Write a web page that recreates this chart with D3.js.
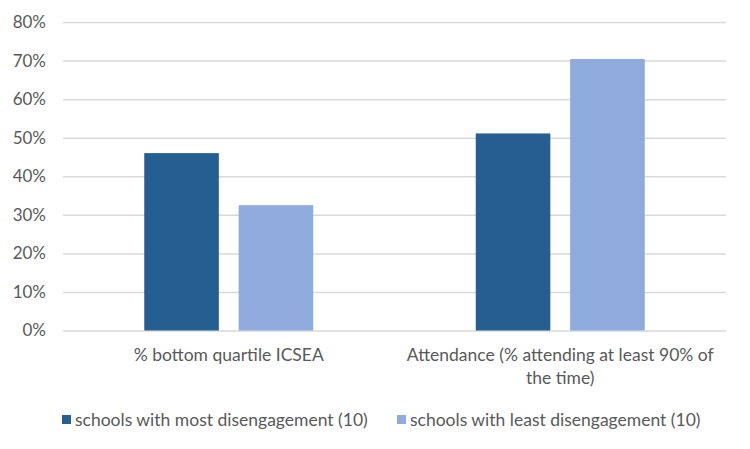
<!DOCTYPE html>
<html>
<head>
<meta charset="utf-8">
<script src="https://cdn.jsdelivr.net/npm/d3@7"></script>
<style>
  body { margin: 0; background: #fff; }
  text { font-family: Lato, 'Open Sans', sans-serif; fill: #595959; }
</style>
</head>
<body>
<div id="chart"></div>
<script>
const categories = ['% bottom quartile ICSEA', 'Attendance (% attending at least 90% of the time)']
const seriesNames = ['schools with most disengagement (10)', 'schools with least disengagement (10)']
const mostValues = [46.0, 51.1]
const leastValues = [32.5, 70.4]
const yTicks = [0, 10, 20, 30, 40, 50, 60, 70, 80]
const colors = ['#255e91', '#8faadc']

const width = 750, height = 449
const margin = { top: 22, right: 24, bottom: 118.5, left: 63 }
const innerW = width - margin.left - margin.right
const innerH = height - margin.top - margin.bottom

const svg = d3.select('#chart').append('svg')
  .attr('width', width)
  .attr('height', height)

const g = svg.append('g').attr('transform', `translate(${margin.left},${margin.top})`)

const y = d3.scaleLinear().domain([0, 80]).range([innerH, 0])
const x0 = d3.scaleBand().domain(categories).range([0, innerW])
const groupW = 169
const x1 = d3.scaleBand().domain(seriesNames).range([0, groupW]).paddingInner(0.21)

// gridlines + y labels
g.append('g')
  .call(d3.axisLeft(y).tickValues(yTicks).tickFormat(d => d + '%').tickSize(-innerW).tickPadding(17))
  .call(a => a.select('.domain').remove())
  .call(a => a.selectAll('.tick line').attr('stroke', '#d9d9d9').attr('stroke-width', 1.5))
  .call(a => a.selectAll('.tick text').style('font-size', '17px').attr('fill', '#595959'))

const rows = categories.map((c, i) => ({ cat: c, vals: [mostValues[i], leastValues[i]] }))

const groups = g.selectAll('.grp').data(rows).enter().append('g')
  .attr('class', 'grp')
  .attr('transform', d => `translate(${x0(d.cat) + (x0.bandwidth() - groupW) / 2},0)`)

groups.selectAll('rect')
  .data(d => d.vals.map((v, i) => ({ key: seriesNames[i], v, i })))
  .enter().append('rect')
  .attr('x', d => x1(d.key))
  .attr('width', x1.bandwidth())
  .attr('y', d => y(d.v))
  .attr('height', d => innerH - y(d.v))
  .attr('fill', d => colors[d.i])

// category labels with wrapping
const xAxis = g.append('g').attr('transform', `translate(0,${innerH})`)
xAxis.selectAll('text').data(categories).enter().append('text')
  .attr('x', d => x0(d) + x0.bandwidth() / 2)
  .attr('y', 30)
  .attr('text-anchor', 'middle')
  .style('font-size', '17.5px')
  .each(function (d) {
    const t = d3.select(this)
    const words = d.split(' ')
    let line = []
    let tspan = t.append('tspan').attr('x', t.attr('x')).attr('dy', 0)
    words.forEach(w => {
      line.push(w)
      tspan.text(line.join(' '))
      if (tspan.node().getComputedTextLength() > 315 && line.length > 1) {
        line.pop()
        tspan.text(line.join(' '))
        line = [w]
        tspan = t.append('tspan').attr('x', t.attr('x')).attr('dy', 23).text(w)
      }
    })
  })

// legend
const legend = svg.append('g').attr('transform', `translate(0,420)`)
const legX = [62, 397]
seriesNames.forEach((s, i) => {
  legend.append('rect')
    .attr('x', legX[i]).attr('y', -5)
    .attr('width', 9).attr('height', 9)
    .attr('fill', colors[i])
  legend.append('text')
    .attr('x', legX[i] + 13).attr('y', 0)
    .attr('dy', '0.35em')
    .style('font-size', '17.5px')
    .text(s)
})
</script>
</body>
</html>
